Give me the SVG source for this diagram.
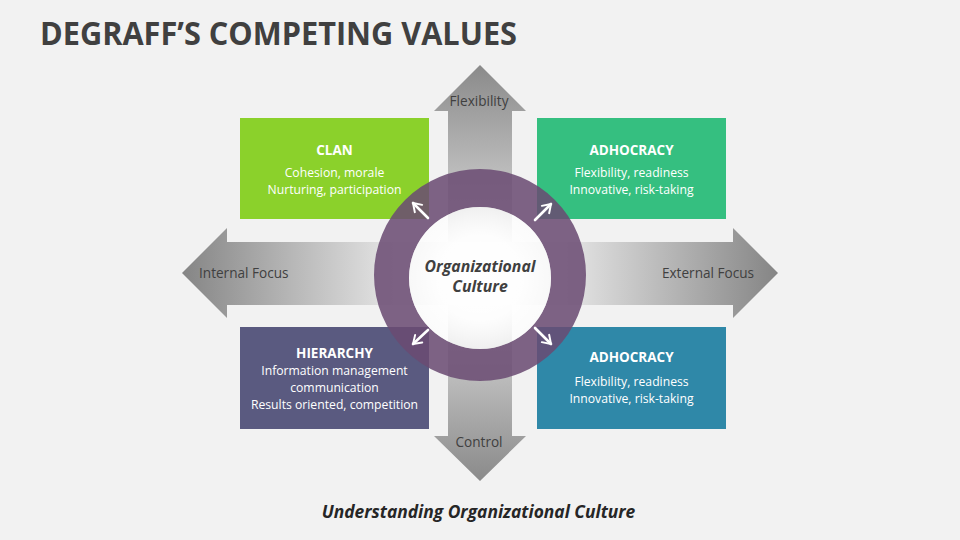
<svg xmlns="http://www.w3.org/2000/svg" width="960" height="540" viewBox="0 0 960 540">
<defs>
<linearGradient id="gUp" x1="0" y1="65" x2="0" y2="276" gradientUnits="userSpaceOnUse"><stop offset="0" stop-color="#8a8a8a"/><stop offset="1" stop-color="#ececec"/></linearGradient>
<linearGradient id="gDown" x1="0" y1="481" x2="0" y2="276" gradientUnits="userSpaceOnUse"><stop offset="0" stop-color="#8a8a8a"/><stop offset="1" stop-color="#ececec"/></linearGradient>
<linearGradient id="gLeft" x1="182" y1="0" x2="400" y2="0" gradientUnits="userSpaceOnUse"><stop offset="0" stop-color="#858585"/><stop offset="1" stop-color="#e8e8e8"/></linearGradient>
<linearGradient id="gRight" x1="778" y1="0" x2="560" y2="0" gradientUnits="userSpaceOnUse"><stop offset="0" stop-color="#858585"/><stop offset="1" stop-color="#e8e8e8"/></linearGradient>
<radialGradient id="gInner" cx="480" cy="278" r="71" gradientUnits="userSpaceOnUse"><stop offset="0" stop-color="#ffffff" stop-opacity="1"/><stop offset="0.6" stop-color="#ffffff" stop-opacity="0.95"/><stop offset="1" stop-color="#ffffff" stop-opacity="0.7"/></radialGradient>
<marker id="head" viewBox="0 0 10 10" refX="7" refY="5" markerWidth="5" markerHeight="5" orient="auto" markerUnits="strokeWidth"><path d="M1,1 L7,5 L1,9" fill="none" stroke="#ffffff" stroke-width="1.5" stroke-linecap="round" stroke-linejoin="round"/></marker>
<style>
.t{font-family:"Open Sans","Liberation Sans",sans-serif;}
.title{font-size:32px;font-weight:700;fill:#404040;}
.bh{font-size:13.5px;font-weight:700;fill:#ffffff;text-anchor:middle;}
.bt{font-size:12.2px;fill:#ffffff;text-anchor:middle;}
.ax{font-size:13.6px;fill:#404040;}
.ctr{font-size:15.8px;font-weight:700;font-style:italic;fill:#404040;text-anchor:middle;}
.cap{font-size:17.4px;font-weight:700;font-style:italic;fill:#262626;text-anchor:middle;}
.conn{fill:none;stroke:#ffffff;stroke-width:2.6;stroke-linecap:round;marker-end:url(#head);}
</style>
</defs>
<rect width="960" height="540" fill="#f2f2f2"/>
<text class="t title" x="40" y="45" textLength="477" lengthAdjust="spacingAndGlyphs">DEGRAFF’S COMPETING VALUES</text>

<g id="axes">
<path d="M480,65 L526,111 L512,111 L512,280 L448,280 L448,111 L434,111 Z" fill="url(#gUp)"/>
<path d="M480,481 L526,436 L512,436 L512,272 L448,272 L448,436 L434,436 Z" fill="url(#gDown)"/>
<path d="M182,273 L227,228 L227,242 L484,242 L484,305 L227,305 L227,318 Z" fill="url(#gLeft)"/>
<path d="M778,273 L733,228 L733,242 L476,242 L476,305 L733,305 L733,318 Z" fill="url(#gRight)"/>
<text class="t ax" x="479" y="106" text-anchor="middle">Flexibility</text>
<text class="t ax" x="479" y="447" text-anchor="middle">Control</text>
<text class="t ax" x="199" y="278">Internal Focus</text>
<text class="t ax" x="754" y="278" text-anchor="end">External Focus</text>
</g>

<g id="clan">
<rect x="240" y="118" width="189" height="101" fill="#8bd12b"/>
<text class="t bh" x="334.5" y="155">CLAN</text>
<text class="t bt" x="334.5" y="177">Cohesion, morale</text>
<text class="t bt" x="334.5" y="193.5">Nurturing, participation</text>
</g>
<g id="adhocracy-top">
<rect x="537" y="118" width="189" height="101" fill="#35bf80"/>
<text class="t bh" x="631.5" y="155">ADHOCRACY</text>
<text class="t bt" x="631.5" y="177">Flexibility, readiness</text>
<text class="t bt" x="631.5" y="193.5">Innovative, risk-taking</text>
</g>
<g id="hierarchy">
<rect x="240" y="327" width="189" height="102" fill="#5a5a80"/>
<text class="t bh" x="334.5" y="357.5">HIERARCHY</text>
<text class="t bt" x="334.5" y="375">Information management</text>
<text class="t bt" x="334.5" y="391.5">communication</text>
<text class="t bt" x="334.5" y="408.5">Results oriented, competition</text>
</g>
<g id="adhocracy-bottom">
<rect x="537" y="327" width="189" height="102" fill="#2f88a8"/>
<text class="t bh" x="631.5" y="362">ADHOCRACY</text>
<text class="t bt" x="631.5" y="386">Flexibility, readiness</text>
<text class="t bt" x="631.5" y="403">Innovative, risk-taking</text>
</g>

<g id="organizational-culture">
<path d="M480,169 A106,106 0 1,1 480,381 A106,106 0 1,1 480,169 Z M480,207 A71,71 0 1,0 480,349 A71,71 0 1,0 480,207 Z" fill="#6a4a72" fill-opacity="0.86" fill-rule="evenodd"/>
<circle cx="480" cy="278" r="71" fill="url(#gInner)"/>
<text class="t ctr" x="480" y="272">Organizational</text>
<text class="t ctr" x="480" y="292">Culture</text>
</g>

<g id="connectors">
<path class="conn" d="M428,218 L413,203"/>
<path class="conn" d="M535,220 L551,204"/>
<path class="conn" d="M428,330 L413,344"/>
<path class="conn" d="M535,328 L551,344"/>
</g>

<text class="t cap" x="478.5" y="518">Understanding Organizational Culture</text>
</svg>
